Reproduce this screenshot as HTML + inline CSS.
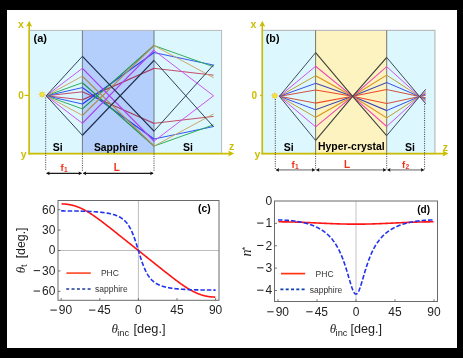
<!DOCTYPE html>
<html><head><meta charset="utf-8"><style>
html,body{margin:0;padding:0;background:#000;width:463px;height:358px;overflow:hidden}
svg{display:block;will-change:transform}
</style></head><body>
<svg width="463" height="358" viewBox="0 0 463 358">
<defs><radialGradient id="sung"><stop offset="0" stop-color="#f6ea3c"/><stop offset="0.7" stop-color="#f0dc40"/><stop offset="1" stop-color="#e8cc48"/></radialGradient></defs>
<rect x="0" y="0" width="463" height="358" fill="#000"/>
<rect x="7" y="10" width="450" height="338" fill="#fff"/>
<rect x="29.2" y="30.4" width="53.2" height="123.19999999999999" fill="#ddf7fe"/>
<rect x="82.4" y="30.4" width="71.6" height="123.19999999999999" fill="#b4cffb"/>
<rect x="154.0" y="30.4" width="67.6" height="123.19999999999999" fill="#ddf7fe"/>
<rect x="29.2" y="30.4" width="192.4" height="123.19999999999999" fill="none" stroke="#b8babd" stroke-width="1"/>
<line x1="82.40" y1="30.40" x2="82.40" y2="153.60" stroke="#6f7a85" stroke-width="1" />
<line x1="154.00" y1="30.40" x2="154.00" y2="153.60" stroke="#6f7a85" stroke-width="1" />
<clipPath id="cp1"><rect x="24.2" y="25.4" width="58.2" height="133.2"/></clipPath>
<g clip-path="url(#cp1)">
<polyline points="46.20,95.80 82.40,91.80 154.00,123.30 213.60,116.40" fill="none" stroke="#c24660" stroke-width="0.95" />
<polyline points="46.20,95.80 82.40,99.80 154.00,68.30 213.60,75.20" fill="none" stroke="#c24660" stroke-width="0.95" />
<polyline points="46.20,95.80 82.40,87.60 154.00,139.00 213.60,126.50" fill="none" stroke="#2a4df3" stroke-width="0.95" />
<polyline points="46.20,95.80 82.40,104.00 154.00,52.60 213.60,65.10" fill="none" stroke="#2a4df3" stroke-width="0.95" />
<polyline points="46.20,95.80 82.40,82.70 154.00,146.10 213.60,124.80" fill="none" stroke="#2aaa50" stroke-width="0.95" />
<polyline points="46.20,95.80 82.40,108.90 154.00,45.50 213.60,66.80" fill="none" stroke="#2aaa50" stroke-width="0.95" />
<polyline points="46.20,95.80 82.40,76.20 154.00,146.10 213.60,113.90" fill="none" stroke="#cba360" stroke-width="0.95" />
<polyline points="46.20,95.80 82.40,115.40 154.00,45.50 213.60,77.70" fill="none" stroke="#cba360" stroke-width="0.95" />
<polyline points="46.20,95.80 82.40,68.30 154.00,141.20 213.60,95.80" fill="none" stroke="#c94df3" stroke-width="0.95" />
<polyline points="46.20,95.80 82.40,123.30 154.00,50.40 213.60,95.80" fill="none" stroke="#c94df3" stroke-width="0.95" />
<polyline points="46.20,95.80 82.40,56.30 154.00,131.20 213.60,64.80" fill="none" stroke="#243850" stroke-width="0.95" />
<polyline points="46.20,95.80 82.40,135.30 154.00,60.40 213.60,126.80" fill="none" stroke="#243850" stroke-width="0.95" />
</g>
<clipPath id="cp2"><rect x="82.4" y="25.4" width="71.6" height="133.2"/></clipPath>
<g clip-path="url(#cp2)">
<polyline points="46.20,95.80 82.40,91.80 154.00,123.30 213.60,116.40" fill="none" stroke="#a53c5f" stroke-width="1.2" />
<polyline points="46.20,95.80 82.40,99.80 154.00,68.30 213.60,75.20" fill="none" stroke="#a53c5f" stroke-width="1.2" />
<polyline points="46.20,95.80 82.40,87.60 154.00,139.00 213.60,126.50" fill="none" stroke="#2342f1" stroke-width="1.2" />
<polyline points="46.20,95.80 82.40,104.00 154.00,52.60 213.60,65.10" fill="none" stroke="#2342f1" stroke-width="1.2" />
<polyline points="46.20,95.80 82.40,82.70 154.00,146.10 213.60,124.80" fill="none" stroke="#23924f" stroke-width="1.2" />
<polyline points="46.20,95.80 82.40,108.90 154.00,45.50 213.60,66.80" fill="none" stroke="#23924f" stroke-width="1.2" />
<polyline points="46.20,95.80 82.40,76.20 154.00,146.10 213.60,113.90" fill="none" stroke="#ac8c5f" stroke-width="1.2" />
<polyline points="46.20,95.80 82.40,115.40 154.00,45.50 213.60,77.70" fill="none" stroke="#ac8c5f" stroke-width="1.2" />
<polyline points="46.20,95.80 82.40,68.30 154.00,141.20 213.60,95.80" fill="none" stroke="#ab42f1" stroke-width="1.2" />
<polyline points="46.20,95.80 82.40,123.30 154.00,50.40 213.60,95.80" fill="none" stroke="#ab42f1" stroke-width="1.2" />
<polyline points="46.20,95.80 82.40,56.30 154.00,131.20 213.60,64.80" fill="none" stroke="#1f304f" stroke-width="1.2" />
<polyline points="46.20,95.80 82.40,135.30 154.00,60.40 213.60,126.80" fill="none" stroke="#1f304f" stroke-width="1.2" />
</g>
<clipPath id="cp3"><rect x="154.0" y="25.4" width="72.6" height="133.2"/></clipPath>
<g clip-path="url(#cp3)">
<polyline points="46.20,95.80 82.40,91.80 154.00,123.30 213.60,116.40" fill="none" stroke="#c24660" stroke-width="0.95" />
<polyline points="46.20,95.80 82.40,99.80 154.00,68.30 213.60,75.20" fill="none" stroke="#c24660" stroke-width="0.95" />
<polyline points="46.20,95.80 82.40,87.60 154.00,139.00 213.60,126.50" fill="none" stroke="#2a4df3" stroke-width="0.95" />
<polyline points="46.20,95.80 82.40,104.00 154.00,52.60 213.60,65.10" fill="none" stroke="#2a4df3" stroke-width="0.95" />
<polyline points="46.20,95.80 82.40,82.70 154.00,146.10 213.60,124.80" fill="none" stroke="#2aaa50" stroke-width="0.95" />
<polyline points="46.20,95.80 82.40,108.90 154.00,45.50 213.60,66.80" fill="none" stroke="#2aaa50" stroke-width="0.95" />
<polyline points="46.20,95.80 82.40,76.20 154.00,146.10 213.60,113.90" fill="none" stroke="#cba360" stroke-width="0.95" />
<polyline points="46.20,95.80 82.40,115.40 154.00,45.50 213.60,77.70" fill="none" stroke="#cba360" stroke-width="0.95" />
<polyline points="46.20,95.80 82.40,68.30 154.00,141.20 213.60,95.80" fill="none" stroke="#c94df3" stroke-width="0.95" />
<polyline points="46.20,95.80 82.40,123.30 154.00,50.40 213.60,95.80" fill="none" stroke="#c94df3" stroke-width="0.95" />
<polyline points="46.20,95.80 82.40,56.30 154.00,131.20 213.60,64.80" fill="none" stroke="#243850" stroke-width="0.95" />
<polyline points="46.20,95.80 82.40,135.30 154.00,60.40 213.60,126.80" fill="none" stroke="#243850" stroke-width="0.95" />
</g>
<polygon points="42.10,90.40 42.76,92.91 45.00,91.60 43.69,93.84 46.20,94.50 43.69,95.16 45.00,97.40 42.76,96.09 42.10,98.60 41.44,96.09 39.20,97.40 40.51,95.16 38.00,94.50 40.51,93.84 39.20,91.60 41.44,92.91" fill="#e6c84a"/>
<circle cx="42.1" cy="94.5" r="2.5" fill="url(#sung)"/>
<line x1="29.20" y1="154.40" x2="29.20" y2="24.80" stroke="#cbbd00" stroke-width="1.6" />
<polygon points="26.20,26.80 29.20,20.80 32.20,26.80 29.20,25.60" fill="#cbbd00"/>
<line x1="28.40" y1="153.60" x2="230.20" y2="153.60" stroke="#cbbd00" stroke-width="1.6" />
<polygon points="228.20,150.60 234.20,153.60 228.20,156.60 229.40,153.60" fill="#cbbd00"/>
<line x1="24.50" y1="95.40" x2="29.20" y2="95.40" stroke="#cbbd00" stroke-width="1.2" />
<text x="21.00" y="27.50" font-family="&quot;Liberation Sans&quot;, sans-serif" font-size="10.5" fill="#cbbd00" font-weight="bold" font-style="normal" text-anchor="middle" >x</text>
<text x="21.00" y="98.80" font-family="&quot;Liberation Sans&quot;, sans-serif" font-size="10" fill="#cbbd00" font-weight="bold" font-style="normal" text-anchor="middle" >0</text>
<text x="23.60" y="157.60" font-family="&quot;Liberation Sans&quot;, sans-serif" font-size="10.5" fill="#cbbd00" font-weight="bold" font-style="normal" text-anchor="middle" >y</text>
<text x="231.50" y="150.00" font-family="&quot;Liberation Sans&quot;, sans-serif" font-size="10.5" fill="#cbbd00" font-weight="bold" font-style="normal" text-anchor="middle" >z</text>
<text x="33.60" y="42.20" font-family="&quot;Liberation Sans&quot;, sans-serif" font-size="11" fill="#000" font-weight="bold" font-style="normal" text-anchor="start" >(a)</text>
<text x="57.60" y="150.80" font-family="&quot;Liberation Sans&quot;, sans-serif" font-size="10.5" fill="#000" font-weight="bold" font-style="normal" text-anchor="middle" >Si</text>
<text x="116.00" y="150.50" font-family="&quot;Liberation Sans&quot;, sans-serif" font-size="10.3" fill="#000" font-weight="bold" font-style="normal" text-anchor="middle" >Sapphire</text>
<text x="188.00" y="150.80" font-family="&quot;Liberation Sans&quot;, sans-serif" font-size="10.5" fill="#000" font-weight="bold" font-style="normal" text-anchor="middle" >Si</text>
<line x1="45.7" y1="97.5" x2="45.7" y2="171" stroke="#222" stroke-width="0.9" stroke-dasharray="1,1.3"/>
<line x1="82.4" y1="153.6" x2="82.4" y2="171" stroke="#222" stroke-width="0.9" stroke-dasharray="1,1.3"/>
<line x1="154.0" y1="153.6" x2="154.0" y2="171" stroke="#222" stroke-width="0.9" stroke-dasharray="1,1.3"/>
<line x1="46.80" y1="173.30" x2="81.40" y2="173.30" stroke="#1a1a1a" stroke-width="1.3" />
<polygon points="46.15,173.30 49.55,171.40 49.15,173.30 49.55,175.20" fill="#111"/>
<polygon points="82.05,173.30 78.65,171.40 79.05,173.30 78.65,175.20" fill="#111"/>
<line x1="83.40" y1="173.30" x2="153.00" y2="173.30" stroke="#1a1a1a" stroke-width="1.3" />
<polygon points="82.75,173.30 86.15,171.40 85.75,173.30 86.15,175.20" fill="#111"/>
<polygon points="153.65,173.30 150.25,171.40 150.65,173.30 150.25,175.20" fill="#111"/>
<text x="64.20" y="170.90" font-family="&quot;Liberation Sans&quot;, sans-serif" font-size="9.6" fill="#f03018" font-weight="bold" font-style="normal" text-anchor="middle" >f<tspan font-size="6.6" dy="0.9" dx="0.3">1</tspan></text>
<text x="116.70" y="171.20" font-family="&quot;Liberation Sans&quot;, sans-serif" font-size="10" fill="#f03018" font-weight="bold" font-style="normal" text-anchor="middle" >L</text>
<rect x="262.3" y="30.4" width="53.30000000000001" height="123.19999999999999" fill="#ddf7fe"/>
<rect x="315.6" y="30.4" width="71.09999999999997" height="123.19999999999999" fill="#fdf3c0"/>
<rect x="386.7" y="30.4" width="48.19999999999999" height="123.19999999999999" fill="#ddf7fe"/>
<rect x="262.3" y="30.4" width="172.59999999999997" height="123.19999999999999" fill="none" stroke="#b8babd" stroke-width="1.2"/>
<line x1="315.60" y1="30.40" x2="315.60" y2="153.60" stroke="#7a7562" stroke-width="1" />
<line x1="386.70" y1="30.40" x2="386.70" y2="153.60" stroke="#7a7562" stroke-width="1" />
<clipPath id="cp4"><rect x="257.3" y="25.4" width="58.30000000000001" height="133.2"/></clipPath>
<g clip-path="url(#cp4)">
<polyline points="279.40,96.30 315.60,90.00 352.60,96.30 386.70,103.55 419.60,96.50 425.70,95.20" fill="none" stroke="#d04a30" stroke-width="0.95" />
<polyline points="279.40,96.30 315.60,103.10 352.60,96.30 386.70,89.55 419.60,96.50 425.70,97.80" fill="none" stroke="#d04a30" stroke-width="0.95" />
<polyline points="279.40,96.30 315.60,83.35 352.60,96.30 386.70,110.55 419.60,96.50 425.70,93.90" fill="none" stroke="#3446e7" stroke-width="0.95" />
<polyline points="279.40,96.30 315.60,109.75 352.60,96.30 386.70,82.55 419.60,96.50 425.70,99.10" fill="none" stroke="#3446e7" stroke-width="0.95" />
<polyline points="279.40,96.30 315.60,75.75 352.60,96.30 386.70,117.95 419.60,96.50 425.70,92.53" fill="none" stroke="#bf9728" stroke-width="0.95" />
<polyline points="279.40,96.30 315.60,117.35 352.60,96.30 386.70,75.15 419.60,96.50 425.70,100.47" fill="none" stroke="#bf9728" stroke-width="0.95" />
<polyline points="279.40,96.30 315.60,66.25 352.60,96.30 386.70,126.45 419.60,96.50 425.70,90.96" fill="none" stroke="#d346ef" stroke-width="0.95" />
<polyline points="279.40,96.30 315.60,126.85 352.60,96.30 386.70,66.65 419.60,96.50 425.70,102.04" fill="none" stroke="#d346ef" stroke-width="0.95" />
<polyline points="279.40,96.30 315.60,52.65 352.60,96.30 386.70,135.65 419.60,96.50 425.70,89.25" fill="none" stroke="#344250" stroke-width="0.95" />
<polyline points="279.40,96.30 315.60,140.45 352.60,96.30 386.70,57.45 419.60,96.50 425.70,103.75" fill="none" stroke="#344250" stroke-width="0.95" />
</g>
<clipPath id="cp5"><rect x="315.6" y="25.4" width="71.09999999999997" height="133.2"/></clipPath>
<g clip-path="url(#cp5)">
<polyline points="279.40,96.30 315.60,90.00 352.60,96.30 386.70,103.55 419.60,96.50 425.70,95.20" fill="none" stroke="#ee4824" stroke-width="1.1" />
<polyline points="279.40,96.30 315.60,103.10 352.60,96.30 386.70,89.55 419.60,96.50 425.70,97.80" fill="none" stroke="#ee4824" stroke-width="1.1" />
<polyline points="279.40,96.30 315.60,83.35 352.60,96.30 386.70,110.55 419.60,96.50 425.70,93.90" fill="none" stroke="#3c45af" stroke-width="1.1" />
<polyline points="279.40,96.30 315.60,109.75 352.60,96.30 386.70,82.55 419.60,96.50 425.70,99.10" fill="none" stroke="#3c45af" stroke-width="1.1" />
<polyline points="279.40,96.30 315.60,75.75 352.60,96.30 386.70,117.95 419.60,96.50 425.70,92.53" fill="none" stroke="#da951e" stroke-width="1.1" />
<polyline points="279.40,96.30 315.60,117.35 352.60,96.30 386.70,75.15 419.60,96.50 425.70,100.47" fill="none" stroke="#da951e" stroke-width="1.1" />
<polyline points="279.40,96.30 315.60,66.25 352.60,96.30 386.70,126.45 419.60,96.50 425.70,90.96" fill="none" stroke="#f245b5" stroke-width="1.1" />
<polyline points="279.40,96.30 315.60,126.85 352.60,96.30 386.70,66.65 419.60,96.50 425.70,102.04" fill="none" stroke="#f245b5" stroke-width="1.1" />
<polyline points="279.40,96.30 315.60,52.65 352.60,96.30 386.70,135.65 419.60,96.50 425.70,89.25" fill="none" stroke="#3c413c" stroke-width="1.1" />
<polyline points="279.40,96.30 315.60,140.45 352.60,96.30 386.70,57.45 419.60,96.50 425.70,103.75" fill="none" stroke="#3c413c" stroke-width="1.1" />
</g>
<clipPath id="cp6"><rect x="386.7" y="25.4" width="53.19999999999999" height="133.2"/></clipPath>
<g clip-path="url(#cp6)">
<polyline points="279.40,96.30 315.60,90.00 352.60,96.30 386.70,103.55 419.60,96.50 425.70,95.20" fill="none" stroke="#d04a30" stroke-width="0.95" />
<polyline points="279.40,96.30 315.60,103.10 352.60,96.30 386.70,89.55 419.60,96.50 425.70,97.80" fill="none" stroke="#d04a30" stroke-width="0.95" />
<polyline points="279.40,96.30 315.60,83.35 352.60,96.30 386.70,110.55 419.60,96.50 425.70,93.90" fill="none" stroke="#3446e7" stroke-width="0.95" />
<polyline points="279.40,96.30 315.60,109.75 352.60,96.30 386.70,82.55 419.60,96.50 425.70,99.10" fill="none" stroke="#3446e7" stroke-width="0.95" />
<polyline points="279.40,96.30 315.60,75.75 352.60,96.30 386.70,117.95 419.60,96.50 425.70,92.53" fill="none" stroke="#bf9728" stroke-width="0.95" />
<polyline points="279.40,96.30 315.60,117.35 352.60,96.30 386.70,75.15 419.60,96.50 425.70,100.47" fill="none" stroke="#bf9728" stroke-width="0.95" />
<polyline points="279.40,96.30 315.60,66.25 352.60,96.30 386.70,126.45 419.60,96.50 425.70,90.96" fill="none" stroke="#d346ef" stroke-width="0.95" />
<polyline points="279.40,96.30 315.60,126.85 352.60,96.30 386.70,66.65 419.60,96.50 425.70,102.04" fill="none" stroke="#d346ef" stroke-width="0.95" />
<polyline points="279.40,96.30 315.60,52.65 352.60,96.30 386.70,135.65 419.60,96.50 425.70,89.25" fill="none" stroke="#344250" stroke-width="0.95" />
<polyline points="279.40,96.30 315.60,140.45 352.60,96.30 386.70,57.45 419.60,96.50 425.70,103.75" fill="none" stroke="#344250" stroke-width="0.95" />
</g>
<polygon points="274.70,91.70 275.36,94.21 277.60,92.90 276.29,95.14 278.80,95.80 276.29,96.46 277.60,98.70 275.36,97.39 274.70,99.90 274.04,97.39 271.80,98.70 273.11,96.46 270.60,95.80 273.11,95.14 271.80,92.90 274.04,94.21" fill="#e6c84a"/>
<circle cx="274.7" cy="95.8" r="2.5" fill="url(#sung)"/>
<line x1="262.30" y1="154.40" x2="262.30" y2="24.80" stroke="#cbbd00" stroke-width="1.6" />
<polygon points="259.30,26.80 262.30,20.80 265.30,26.80 262.30,25.60" fill="#cbbd00"/>
<line x1="261.50" y1="153.60" x2="444.50" y2="153.60" stroke="#cbbd00" stroke-width="1.6" />
<polygon points="442.50,150.60 448.50,153.60 442.50,156.60 443.70,153.60" fill="#cbbd00"/>
<line x1="260.00" y1="95.50" x2="262.30" y2="95.50" stroke="#cbbd00" stroke-width="1.2" />
<text x="253.50" y="27.50" font-family="&quot;Liberation Sans&quot;, sans-serif" font-size="10.5" fill="#cbbd00" font-weight="bold" font-style="normal" text-anchor="middle" >x</text>
<text x="254.20" y="98.80" font-family="&quot;Liberation Sans&quot;, sans-serif" font-size="10" fill="#cbbd00" font-weight="bold" font-style="normal" text-anchor="middle" >0</text>
<text x="257.30" y="157.60" font-family="&quot;Liberation Sans&quot;, sans-serif" font-size="10.5" fill="#cbbd00" font-weight="bold" font-style="normal" text-anchor="middle" >y</text>
<text x="445.40" y="150.60" font-family="&quot;Liberation Sans&quot;, sans-serif" font-size="10.5" fill="#cbbd00" font-weight="bold" font-style="normal" text-anchor="middle" >z</text>
<text x="265.80" y="41.90" font-family="&quot;Liberation Sans&quot;, sans-serif" font-size="10.7" fill="#000" font-weight="bold" font-style="normal" text-anchor="start" >(b)</text>
<text x="288.80" y="151.00" font-family="&quot;Liberation Sans&quot;, sans-serif" font-size="10.5" fill="#000" font-weight="bold" font-style="normal" text-anchor="middle" >Si</text>
<text x="351.40" y="149.70" font-family="&quot;Liberation Sans&quot;, sans-serif" font-size="10.45" fill="#000" font-weight="bold" font-style="normal" text-anchor="middle" >Hyper-crystal</text>
<text x="410.00" y="151.00" font-family="&quot;Liberation Sans&quot;, sans-serif" font-size="10.5" fill="#000" font-weight="bold" font-style="normal" text-anchor="middle" >Si</text>
<line x1="275.3" y1="99" x2="275.3" y2="170" stroke="#222" stroke-width="0.9" stroke-dasharray="1,1.3"/>
<line x1="315.6" y1="153.6" x2="315.6" y2="170" stroke="#222" stroke-width="0.9" stroke-dasharray="1,1.3"/>
<line x1="386.7" y1="153.6" x2="386.7" y2="170" stroke="#222" stroke-width="0.9" stroke-dasharray="1,1.3"/>
<line x1="424.6" y1="104" x2="424.6" y2="170" stroke="#222" stroke-width="0.9" stroke-dasharray="1,1.3"/>
<line x1="276.30" y1="169.90" x2="314.60" y2="169.90" stroke="#a4a4a4" stroke-width="1.6" />
<polygon points="275.65,169.90 279.05,168.00 278.65,169.90 279.05,171.80" fill="#111"/>
<polygon points="315.25,169.90 311.85,168.00 312.25,169.90 311.85,171.80" fill="#111"/>
<line x1="316.60" y1="169.90" x2="385.70" y2="169.90" stroke="#a4a4a4" stroke-width="1.6" />
<polygon points="315.95,169.90 319.35,168.00 318.95,169.90 319.35,171.80" fill="#111"/>
<polygon points="386.35,169.90 382.95,168.00 383.35,169.90 382.95,171.80" fill="#111"/>
<line x1="387.70" y1="169.90" x2="423.60" y2="169.90" stroke="#a4a4a4" stroke-width="1.6" />
<polygon points="387.05,169.90 390.45,168.00 390.05,169.90 390.45,171.80" fill="#111"/>
<polygon points="424.25,169.90 420.85,168.00 421.25,169.90 420.85,171.80" fill="#111"/>
<text x="295.20" y="167.90" font-family="&quot;Liberation Sans&quot;, sans-serif" font-size="9.6" fill="#f03018" font-weight="bold" font-style="normal" text-anchor="middle" >f<tspan font-size="6.6" dy="0.9" dx="0.3">1</tspan></text>
<text x="347.10" y="167.60" font-family="&quot;Liberation Sans&quot;, sans-serif" font-size="10" fill="#f03018" font-weight="bold" font-style="normal" text-anchor="middle" >L</text>
<text x="405.70" y="167.90" font-family="&quot;Liberation Sans&quot;, sans-serif" font-size="9.6" fill="#f03018" font-weight="bold" font-style="normal" text-anchor="middle" >f<tspan font-size="6.6" dy="0.9" dx="0.3">2</tspan></text>
<line x1="138.4" y1="200.5" x2="138.4" y2="300.3" stroke="#bdbdbd" stroke-width="1"/>
<line x1="58.0" y1="250.5" x2="219.0" y2="250.5" stroke="#bdbdbd" stroke-width="1"/>
<polyline points="61.61,203.90 62.04,203.90 62.47,203.91 62.90,203.93 63.33,203.94 63.75,203.97 64.18,203.99 64.61,204.02 65.04,204.05 65.47,204.09 65.90,204.13 66.33,204.18 66.76,204.23 67.19,204.28 67.62,204.34 68.04,204.40 68.47,204.46 68.90,204.53 69.33,204.61 69.76,204.69 70.19,204.77 70.62,204.86 71.05,204.95 71.48,205.04 71.91,205.14 72.33,205.25 72.76,205.36 73.19,205.47 73.62,205.59 74.05,205.71 74.48,205.84 74.91,205.97 75.34,206.10 75.77,206.24 76.20,206.39 76.62,206.54 77.05,206.69 77.48,206.85 77.91,207.01 78.34,207.17 78.77,207.35 79.20,207.52 79.63,207.70 80.06,207.88 80.49,208.07 80.91,208.26 81.34,208.46 81.77,208.66 82.20,208.87 82.63,209.08 83.06,209.29 83.49,209.50 83.92,209.73 84.35,209.95 84.78,210.18 85.20,210.41 85.63,210.65 86.06,210.89 86.49,211.13 86.92,211.37 87.35,211.62 87.78,211.88 88.21,212.13 88.64,212.39 89.06,212.66 89.49,212.92 89.92,213.19 90.35,213.46 90.78,213.73 91.21,214.01 91.64,214.29 92.07,214.57 92.50,214.86 92.93,215.15 93.36,215.44 93.78,215.73 94.21,216.02 94.64,216.32 95.07,216.62 95.50,216.92 95.93,217.22 96.36,217.53 96.79,217.83 97.22,218.14 97.65,218.45 98.07,218.76 98.50,219.08 98.93,219.39 99.36,219.71 99.79,220.03 100.22,220.34 100.65,220.66 101.08,220.99 101.51,221.31 101.94,221.63 102.36,221.96 102.79,222.29 103.22,222.61 103.65,222.94 104.08,223.27 104.51,223.60 104.94,223.93 105.37,224.26 105.80,224.59 106.23,224.93 106.65,225.26 107.08,225.60 107.51,225.93 107.94,226.27 108.37,226.60 108.80,226.94 109.23,227.27 109.66,227.61 110.09,227.95 110.52,228.29 110.94,228.63 111.37,228.97 111.80,229.30 112.23,229.64 112.66,229.98 113.09,230.32 113.52,230.66 113.95,231.00 114.38,231.34 114.81,231.69 115.23,232.03 115.66,232.37 116.09,232.71 116.52,233.05 116.95,233.39 117.38,233.73 117.81,234.08 118.24,234.42 118.67,234.76 119.09,235.10 119.52,235.44 119.95,235.78 120.38,236.13 120.81,236.47 121.24,236.81 121.67,237.15 122.10,237.50 122.53,237.84 122.96,238.18 123.39,238.52 123.81,238.86 124.24,239.21 124.67,239.55 125.10,239.89 125.53,240.23 125.96,240.58 126.39,240.92 126.82,241.26 127.25,241.60 127.68,241.94 128.10,242.29 128.53,242.63 128.96,242.97 129.39,243.31 129.82,243.66 130.25,244.00 130.68,244.34 131.11,244.68 131.54,245.02 131.97,245.37 132.39,245.71 132.82,246.05 133.25,246.39 133.68,246.74 134.11,247.08 134.54,247.42 134.97,247.76 135.40,248.10 135.83,248.45 136.25,248.79 136.68,249.13 137.11,249.47 137.54,249.82 137.97,250.16 138.40,250.50 138.83,250.84 139.26,251.18 139.69,251.53 140.12,251.87 140.55,252.21 140.97,252.55 141.40,252.90 141.83,253.24 142.26,253.58 142.69,253.92 143.12,254.26 143.55,254.61 143.98,254.95 144.41,255.29 144.84,255.63 145.26,255.98 145.69,256.32 146.12,256.66 146.55,257.00 146.98,257.34 147.41,257.69 147.84,258.03 148.27,258.37 148.70,258.71 149.12,259.06 149.55,259.40 149.98,259.74 150.41,260.08 150.84,260.42 151.27,260.77 151.70,261.11 152.13,261.45 152.56,261.79 152.99,262.14 153.42,262.48 153.84,262.82 154.27,263.16 154.70,263.50 155.13,263.85 155.56,264.19 155.99,264.53 156.42,264.87 156.85,265.22 157.28,265.56 157.71,265.90 158.13,266.24 158.56,266.58 158.99,266.92 159.42,267.27 159.85,267.61 160.28,267.95 160.71,268.29 161.14,268.63 161.57,268.97 162.00,269.31 162.42,269.66 162.85,270.00 163.28,270.34 163.71,270.68 164.14,271.02 164.57,271.36 165.00,271.70 165.43,272.03 165.86,272.37 166.28,272.71 166.71,273.05 167.14,273.39 167.57,273.73 168.00,274.06 168.43,274.40 168.86,274.73 169.29,275.07 169.72,275.40 170.15,275.74 170.57,276.07 171.00,276.41 171.43,276.74 171.86,277.07 172.29,277.40 172.72,277.73 173.15,278.06 173.58,278.39 174.01,278.71 174.44,279.04 174.87,279.37 175.29,279.69 175.72,280.01 176.15,280.34 176.58,280.66 177.01,280.97 177.44,281.29 177.87,281.61 178.30,281.92 178.73,282.24 179.16,282.55 179.58,282.86 180.01,283.17 180.44,283.47 180.87,283.78 181.30,284.08 181.73,284.38 182.16,284.68 182.59,284.98 183.02,285.27 183.44,285.56 183.87,285.85 184.30,286.14 184.73,286.43 185.16,286.71 185.59,286.99 186.02,287.27 186.45,287.54 186.88,287.81 187.31,288.08 187.74,288.34 188.16,288.61 188.59,288.87 189.02,289.12 189.45,289.38 189.88,289.63 190.31,289.87 190.74,290.11 191.17,290.35 191.60,290.59 192.03,290.82 192.45,291.05 192.88,291.27 193.31,291.50 193.74,291.71 194.17,291.92 194.60,292.13 195.03,292.34 195.46,292.54 195.89,292.74 196.31,292.93 196.74,293.12 197.17,293.30 197.60,293.48 198.03,293.65 198.46,293.83 198.89,293.99 199.32,294.15 199.75,294.31 200.18,294.46 200.61,294.61 201.03,294.76 201.46,294.90 201.89,295.03 202.32,295.16 202.75,295.29 203.18,295.41 203.61,295.53 204.04,295.64 204.47,295.75 204.90,295.86 205.32,295.96 205.75,296.05 206.18,296.14 206.61,296.23 207.04,296.31 207.47,296.39 207.90,296.47 208.33,296.54 208.76,296.60 209.19,296.66 209.61,296.72 210.04,296.77 210.47,296.82 210.90,296.87 211.33,296.91 211.76,296.95 212.19,296.98 212.62,297.01 213.05,297.03 213.48,297.06 213.90,297.07 214.33,297.09 214.76,297.10 215.19,297.10" fill="none" stroke="#ff1414" stroke-width="1.6" />
<polyline points="61.18,210.92 61.39,210.92 61.61,210.92 61.82,210.92 62.04,210.92 62.25,210.92 62.47,210.92 62.68,210.92 62.90,210.92 63.11,210.92 63.33,210.92 63.54,210.92 63.75,210.92 63.97,210.92 64.18,210.93 64.40,210.93 64.61,210.93 64.83,210.93 65.04,210.93 65.26,210.93 65.47,210.93 65.68,210.93 65.90,210.93 66.11,210.93 66.33,210.93 66.54,210.94 66.76,210.94 66.97,210.94 67.19,210.94 67.40,210.94 67.62,210.94 67.83,210.94 68.04,210.95 68.26,210.95 68.47,210.95 68.69,210.95 68.90,210.95 69.12,210.95 69.33,210.96 69.55,210.96 69.76,210.96 69.97,210.96 70.19,210.97 70.40,210.97 70.62,210.97 70.83,210.97 71.05,210.97 71.26,210.98 71.48,210.98 71.69,210.98 71.91,210.98 72.12,210.99 72.33,210.99 72.55,210.99 72.76,211.00 72.98,211.00 73.19,211.00 73.41,211.00 73.62,211.01 73.84,211.01 74.05,211.01 74.26,211.02 74.48,211.02 74.69,211.02 74.91,211.03 75.12,211.03 75.34,211.03 75.55,211.04 75.77,211.04 75.98,211.05 76.20,211.05 76.41,211.05 76.62,211.06 76.84,211.06 77.05,211.07 77.27,211.07 77.48,211.07 77.70,211.08 77.91,211.08 78.13,211.09 78.34,211.09 78.55,211.10 78.77,211.10 78.98,211.11 79.20,211.11 79.41,211.12 79.63,211.12 79.84,211.13 80.06,211.13 80.27,211.14 80.49,211.14 80.70,211.15 80.91,211.15 81.13,211.16 81.34,211.16 81.56,211.17 81.77,211.18 81.99,211.18 82.20,211.19 82.42,211.19 82.63,211.20 82.84,211.21 83.06,211.21 83.27,211.22 83.49,211.23 83.70,211.23 83.92,211.24 84.13,211.25 84.35,211.25 84.56,211.26 84.78,211.27 84.99,211.28 85.20,211.28 85.42,211.29 85.63,211.30 85.85,211.31 86.06,211.31 86.28,211.32 86.49,211.33 86.71,211.34 86.92,211.35 87.13,211.36 87.35,211.36 87.56,211.37 87.78,211.38 87.99,211.39 88.21,211.40 88.42,211.41 88.64,211.42 88.85,211.43 89.06,211.44 89.28,211.45 89.49,211.46 89.71,211.47 89.92,211.48 90.14,211.49 90.35,211.50 90.57,211.51 90.78,211.52 91.00,211.53 91.21,211.54 91.42,211.55 91.64,211.57 91.85,211.58 92.07,211.59 92.28,211.60 92.50,211.61 92.71,211.63 92.93,211.64 93.14,211.65 93.36,211.66 93.57,211.68 93.78,211.69 94.00,211.70 94.21,211.72 94.43,211.73 94.64,211.75 94.86,211.76 95.07,211.77 95.29,211.79 95.50,211.80 95.71,211.82 95.93,211.84 96.14,211.85 96.36,211.87 96.57,211.88 96.79,211.90 97.00,211.92 97.22,211.93 97.43,211.95 97.65,211.97 97.86,211.98 98.07,212.00 98.29,212.02 98.50,212.04 98.72,212.06 98.93,212.08 99.15,212.10 99.36,212.12 99.58,212.14 99.79,212.16 100.00,212.18 100.22,212.20 100.43,212.22 100.65,212.24 100.86,212.26 101.08,212.28 101.29,212.31 101.51,212.33 101.72,212.35 101.94,212.38 102.15,212.40 102.36,212.43 102.58,212.45 102.79,212.48 103.01,212.50 103.22,212.53 103.44,212.56 103.65,212.58 103.87,212.61 104.08,212.64 104.29,212.67 104.51,212.70 104.72,212.72 104.94,212.75 105.15,212.78 105.37,212.82 105.58,212.85 105.80,212.88 106.01,212.91 106.23,212.95 106.44,212.98 106.65,213.01 106.87,213.05 107.08,213.08 107.30,213.12 107.51,213.16 107.73,213.19 107.94,213.23 108.16,213.27 108.37,213.31 108.58,213.35 108.80,213.39 109.01,213.43 109.23,213.48 109.44,213.52 109.66,213.56 109.87,213.61 110.09,213.66 110.30,213.70 110.52,213.75 110.73,213.80 110.94,213.85 111.16,213.90 111.37,213.95 111.59,214.00 111.80,214.06 112.02,214.11 112.23,214.17 112.45,214.22 112.66,214.28 112.87,214.34 113.09,214.40 113.30,214.46 113.52,214.52 113.73,214.59 113.95,214.65 114.16,214.72 114.38,214.79 114.59,214.86 114.81,214.93 115.02,215.00 115.23,215.07 115.45,215.15 115.66,215.22 115.88,215.30 116.09,215.38 116.31,215.47 116.52,215.55 116.74,215.64 116.95,215.72 117.16,215.81 117.38,215.90 117.59,216.00 117.81,216.09 118.02,216.19 118.24,216.29 118.45,216.39 118.67,216.50 118.88,216.60 119.09,216.71 119.31,216.83 119.52,216.94 119.74,217.06 119.95,217.18 120.17,217.30 120.38,217.43 120.60,217.55 120.81,217.69 121.03,217.82 121.24,217.96 121.45,218.10 121.67,218.24 121.88,218.39 122.10,218.54 122.31,218.70 122.53,218.86 122.74,219.02 122.96,219.19 123.17,219.36 123.39,219.54 123.60,219.72 123.81,219.90 124.03,220.09 124.24,220.29 124.46,220.49 124.67,220.69 124.89,220.90 125.10,221.12 125.32,221.34 125.53,221.56 125.74,221.80 125.96,222.03 126.17,222.28 126.39,222.53 126.60,222.78 126.82,223.05 127.03,223.32 127.25,223.60 127.46,223.88 127.68,224.17 127.89,224.47 128.10,224.78 128.32,225.09 128.53,225.42 128.75,225.75 128.96,226.09 129.18,226.44 129.39,226.80 129.61,227.16 129.82,227.54 130.03,227.92 130.25,228.32 130.46,228.72 130.68,229.14 130.89,229.56 131.11,230.00 131.32,230.44 131.54,230.90 131.75,231.36 131.97,231.84 132.18,232.33 132.39,232.82 132.61,233.33 132.82,233.85 133.04,234.38 133.25,234.92 133.47,235.47 133.68,236.04 133.90,236.61 134.11,237.19 134.32,237.78 134.54,238.39 134.75,239.00 134.97,239.62 135.18,240.25 135.40,240.89 135.61,241.54 135.83,242.20 136.04,242.86 136.25,243.53 136.47,244.21 136.68,244.89 136.90,245.58 137.11,246.28 137.33,246.97 137.54,247.67 137.76,248.38 137.97,249.08 138.19,249.79 138.40,250.50 138.61,251.21 138.83,251.92 139.04,252.62 139.26,253.33 139.47,254.03 139.69,254.72 139.90,255.42 140.12,256.11 140.33,256.79 140.55,257.47 140.76,258.14 140.97,258.80 141.19,259.46 141.40,260.11 141.62,260.75 141.83,261.38 142.05,262.00 142.26,262.61 142.48,263.22 142.69,263.81 142.90,264.39 143.12,264.96 143.33,265.53 143.55,266.08 143.76,266.62 143.98,267.15 144.19,267.67 144.41,268.18 144.62,268.67 144.84,269.16 145.05,269.64 145.26,270.10 145.48,270.56 145.69,271.00 145.91,271.44 146.12,271.86 146.34,272.28 146.55,272.68 146.77,273.08 146.98,273.46 147.19,273.84 147.41,274.20 147.62,274.56 147.84,274.91 148.05,275.25 148.27,275.58 148.48,275.91 148.70,276.22 148.91,276.53 149.12,276.83 149.34,277.12 149.55,277.40 149.77,277.68 149.98,277.95 150.20,278.22 150.41,278.47 150.63,278.72 150.84,278.97 151.06,279.20 151.27,279.44 151.48,279.66 151.70,279.88 151.91,280.10 152.13,280.31 152.34,280.51 152.56,280.71 152.77,280.91 152.99,281.10 153.20,281.28 153.42,281.46 153.63,281.64 153.84,281.81 154.06,281.98 154.27,282.14 154.49,282.30 154.70,282.46 154.92,282.61 155.13,282.76 155.35,282.90 155.56,283.04 155.77,283.18 155.99,283.31 156.20,283.45 156.42,283.57 156.63,283.70 156.85,283.82 157.06,283.94 157.28,284.06 157.49,284.17 157.71,284.29 157.92,284.40 158.13,284.50 158.35,284.61 158.56,284.71 158.78,284.81 158.99,284.91 159.21,285.00 159.42,285.10 159.64,285.19 159.85,285.28 160.06,285.36 160.28,285.45 160.49,285.53 160.71,285.62 160.92,285.70 161.14,285.78 161.35,285.85 161.57,285.93 161.78,286.00 162.00,286.07 162.21,286.14 162.42,286.21 162.64,286.28 162.85,286.35 163.07,286.41 163.28,286.48 163.50,286.54 163.71,286.60 163.93,286.66 164.14,286.72 164.35,286.78 164.57,286.83 164.78,286.89 165.00,286.94 165.21,287.00 165.43,287.05 165.64,287.10 165.86,287.15 166.07,287.20 166.28,287.25 166.50,287.30 166.71,287.34 166.93,287.39 167.14,287.44 167.36,287.48 167.57,287.52 167.79,287.57 168.00,287.61 168.22,287.65 168.43,287.69 168.64,287.73 168.86,287.77 169.07,287.81 169.29,287.84 169.50,287.88 169.72,287.92 169.93,287.95 170.15,287.99 170.36,288.02 170.57,288.05 170.79,288.09 171.00,288.12 171.22,288.15 171.43,288.18 171.65,288.22 171.86,288.25 172.08,288.28 172.29,288.30 172.51,288.33 172.72,288.36 172.93,288.39 173.15,288.42 173.36,288.44 173.58,288.47 173.79,288.50 174.01,288.52 174.22,288.55 174.44,288.57 174.65,288.60 174.87,288.62 175.08,288.65 175.29,288.67 175.51,288.69 175.72,288.72 175.94,288.74 176.15,288.76 176.37,288.78 176.58,288.80 176.80,288.82 177.01,288.84 177.22,288.86 177.44,288.88 177.65,288.90 177.87,288.92 178.08,288.94 178.30,288.96 178.51,288.98 178.73,289.00 178.94,289.02 179.16,289.03 179.37,289.05 179.58,289.07 179.80,289.08 180.01,289.10 180.23,289.12 180.44,289.13 180.66,289.15 180.87,289.16 181.09,289.18 181.30,289.20 181.51,289.21 181.73,289.23 181.94,289.24 182.16,289.25 182.37,289.27 182.59,289.28 182.80,289.30 183.02,289.31 183.23,289.32 183.44,289.34 183.66,289.35 183.87,289.36 184.09,289.37 184.30,289.39 184.52,289.40 184.73,289.41 184.95,289.42 185.16,289.43 185.38,289.45 185.59,289.46 185.80,289.47 186.02,289.48 186.23,289.49 186.45,289.50 186.66,289.51 186.88,289.52 187.09,289.53 187.31,289.54 187.52,289.55 187.74,289.56 187.95,289.57 188.16,289.58 188.38,289.59 188.59,289.60 188.81,289.61 189.02,289.62 189.24,289.63 189.45,289.64 189.67,289.64 189.88,289.65 190.09,289.66 190.31,289.67 190.52,289.68 190.74,289.69 190.95,289.69 191.17,289.70 191.38,289.71 191.60,289.72 191.81,289.72 192.03,289.73 192.24,289.74 192.45,289.75 192.67,289.75 192.88,289.76 193.10,289.77 193.31,289.77 193.53,289.78 193.74,289.79 193.96,289.79 194.17,289.80 194.38,289.81 194.60,289.81 194.81,289.82 195.03,289.82 195.24,289.83 195.46,289.84 195.67,289.84 195.89,289.85 196.10,289.85 196.31,289.86 196.53,289.86 196.74,289.87 196.96,289.87 197.17,289.88 197.39,289.88 197.60,289.89 197.82,289.89 198.03,289.90 198.25,289.90 198.46,289.91 198.67,289.91 198.89,289.92 199.10,289.92 199.32,289.93 199.53,289.93 199.75,289.93 199.96,289.94 200.18,289.94 200.39,289.95 200.61,289.95 200.82,289.95 201.03,289.96 201.25,289.96 201.46,289.97 201.68,289.97 201.89,289.97 202.11,289.98 202.32,289.98 202.54,289.98 202.75,289.99 202.96,289.99 203.18,289.99 203.39,290.00 203.61,290.00 203.82,290.00 204.04,290.00 204.25,290.01 204.47,290.01 204.68,290.01 204.90,290.02 205.11,290.02 205.32,290.02 205.54,290.02 205.75,290.03 205.97,290.03 206.18,290.03 206.40,290.03 206.61,290.03 206.83,290.04 207.04,290.04 207.25,290.04 207.47,290.04 207.68,290.05 207.90,290.05 208.11,290.05 208.33,290.05 208.54,290.05 208.76,290.05 208.97,290.06 209.19,290.06 209.40,290.06 209.61,290.06 209.83,290.06 210.04,290.06 210.26,290.06 210.47,290.07 210.69,290.07 210.90,290.07 211.12,290.07 211.33,290.07 211.54,290.07 211.76,290.07 211.97,290.07 212.19,290.07 212.40,290.07 212.62,290.07 212.83,290.08 213.05,290.08 213.26,290.08 213.48,290.08 213.69,290.08 213.90,290.08 214.12,290.08 214.33,290.08 214.55,290.08 214.76,290.08 214.98,290.08 215.19,290.08 215.41,290.08 215.62,290.08" fill="none" stroke="#2233f0" stroke-width="1.6" stroke-dasharray="4.5,2"/>
<rect x="58.0" y="200.5" width="161.0" height="99.80000000000001" fill="none" stroke="#6a6a6a" stroke-width="1"/>
<line x1="58.00" y1="209.64" x2="60.50" y2="209.64" stroke="#555" stroke-width="0.8" />
<text x="42.06" y="213.54" font-family="&quot;Liberation Sans&quot;, sans-serif" font-size="12" fill="#1e1e1e" font-weight="normal" font-style="normal" text-anchor="start" >60</text>
<line x1="58.00" y1="230.07" x2="60.50" y2="230.07" stroke="#555" stroke-width="0.8" />
<text x="42.06" y="233.97" font-family="&quot;Liberation Sans&quot;, sans-serif" font-size="12" fill="#1e1e1e" font-weight="normal" font-style="normal" text-anchor="start" >30</text>
<line x1="58.00" y1="250.50" x2="60.50" y2="250.50" stroke="#555" stroke-width="0.8" />
<text x="48.73" y="254.40" font-family="&quot;Liberation Sans&quot;, sans-serif" font-size="12" fill="#1e1e1e" font-weight="normal" font-style="normal" text-anchor="start" >0</text>
<line x1="58.00" y1="270.93" x2="60.50" y2="270.93" stroke="#555" stroke-width="0.8" />
<line x1="33.66" y1="270.63" x2="40.06" y2="270.63" stroke="#1e1e1e" stroke-width="1.0" />
<text x="42.06" y="274.83" font-family="&quot;Liberation Sans&quot;, sans-serif" font-size="12" fill="#1e1e1e" font-weight="normal" font-style="normal" text-anchor="start" >30</text>
<line x1="58.00" y1="291.36" x2="60.50" y2="291.36" stroke="#555" stroke-width="0.8" />
<line x1="33.66" y1="291.06" x2="40.06" y2="291.06" stroke="#1e1e1e" stroke-width="1.0" />
<text x="42.06" y="295.26" font-family="&quot;Liberation Sans&quot;, sans-serif" font-size="12" fill="#1e1e1e" font-weight="normal" font-style="normal" text-anchor="start" >60</text>
<line x1="61.18" y1="300.30" x2="61.18" y2="298.10" stroke="#555" stroke-width="0.8" />
<line x1="50.41" y1="310.10" x2="56.81" y2="310.10" stroke="#1e1e1e" stroke-width="1.0" />
<text x="58.81" y="314.30" font-family="&quot;Liberation Sans&quot;, sans-serif" font-size="12" fill="#1e1e1e" font-weight="normal" font-style="normal" text-anchor="start" >90</text>
<line x1="99.79" y1="300.30" x2="99.79" y2="298.10" stroke="#555" stroke-width="0.8" />
<line x1="89.02" y1="310.10" x2="95.42" y2="310.10" stroke="#1e1e1e" stroke-width="1.0" />
<text x="97.42" y="314.30" font-family="&quot;Liberation Sans&quot;, sans-serif" font-size="12" fill="#1e1e1e" font-weight="normal" font-style="normal" text-anchor="start" >45</text>
<line x1="138.40" y1="300.30" x2="138.40" y2="298.10" stroke="#555" stroke-width="0.8" />
<text x="135.06" y="314.30" font-family="&quot;Liberation Sans&quot;, sans-serif" font-size="12" fill="#1e1e1e" font-weight="normal" font-style="normal" text-anchor="start" >0</text>
<line x1="177.01" y1="300.30" x2="177.01" y2="298.10" stroke="#555" stroke-width="0.8" />
<text x="170.34" y="314.30" font-family="&quot;Liberation Sans&quot;, sans-serif" font-size="12" fill="#1e1e1e" font-weight="normal" font-style="normal" text-anchor="start" >45</text>
<line x1="215.62" y1="300.30" x2="215.62" y2="298.10" stroke="#555" stroke-width="0.8" />
<text x="208.95" y="314.30" font-family="&quot;Liberation Sans&quot;, sans-serif" font-size="12" fill="#1e1e1e" font-weight="normal" font-style="normal" text-anchor="start" >90</text>
<text x="204.40" y="212.10" font-family="&quot;Liberation Sans&quot;, sans-serif" font-size="10.3" fill="#000" font-weight="bold" font-style="normal" text-anchor="middle" >(c)</text>
<line x1="66.40" y1="273.10" x2="90.80" y2="273.10" stroke="#ff5a3c" stroke-width="1.8" />
<text x="100.90" y="276.40" font-family="&quot;Liberation Sans&quot;, sans-serif" font-size="8.5" fill="#333" font-weight="normal" font-style="normal" text-anchor="start" >PHC</text>
<line x1="66.20" y1="289.00" x2="90.60" y2="289.00" stroke="#1c3c90" stroke-width="1.6" stroke-dasharray="3,2.35"/>
<text x="95.00" y="291.50" font-family="&quot;Liberation Sans&quot;, sans-serif" font-size="8.5" fill="#333" font-weight="normal" font-style="normal" text-anchor="start" >sapphire</text>
<text x="111.50" y="333.30" font-family="&quot;Liberation Serif&quot;, serif" font-size="13" fill="#1e1e1e" font-weight="normal" font-style="italic" text-anchor="start" >θ</text>
<text x="117.20" y="336.00" font-family="&quot;Liberation Sans&quot;, sans-serif" font-size="9.3" fill="#1e1e1e" font-weight="normal" font-style="normal" text-anchor="start" >inc</text>
<text x="133.50" y="333.30" font-family="&quot;Liberation Sans&quot;, sans-serif" font-size="12.8" fill="#1e1e1e" font-weight="normal" font-style="normal" text-anchor="start" >[deg.]</text>
<g transform="translate(24.9,273.3) rotate(-90)">
<text x="0.00" y="0.00" font-family="&quot;Liberation Sans&quot;, sans-serif" font-size="12.8" fill="#1e1e1e" font-weight="normal" font-style="normal" text-anchor="start" ><tspan font-family="&quot;Liberation Serif&quot;, serif" font-style="italic" font-size="13">θ</tspan><tspan font-size="9" dy="2.2">t</tspan></text>
</g>
<g transform="translate(24.6,258.3) rotate(-90)">
<text x="0.00" y="0.00" font-family="&quot;Liberation Sans&quot;, sans-serif" font-size="12.3" fill="#1e1e1e" font-weight="normal" font-style="normal" text-anchor="start" >[deg.]</text>
</g>
<line x1="356.0" y1="201.0" x2="356.0" y2="301.5" stroke="#c4c4c4" stroke-width="1"/>
<polyline points="278.43,221.81 278.86,221.81 279.30,221.81 279.73,221.81 280.16,221.81 280.60,221.82 281.03,221.82 281.46,221.82 281.90,221.82 282.33,221.83 282.76,221.83 283.20,221.83 283.63,221.84 284.06,221.84 284.50,221.85 284.93,221.85 285.36,221.86 285.80,221.87 286.23,221.87 286.66,221.88 287.10,221.89 287.53,221.89 287.96,221.90 288.40,221.91 288.83,221.92 289.26,221.93 289.70,221.94 290.13,221.95 290.56,221.96 291.00,221.97 291.43,221.98 291.86,221.99 292.30,222.00 292.73,222.01 293.16,222.02 293.60,222.03 294.03,222.05 294.46,222.06 294.90,222.07 295.33,222.08 295.76,222.10 296.20,222.11 296.63,222.12 297.06,222.14 297.50,222.15 297.93,222.17 298.36,222.18 298.80,222.20 299.23,222.21 299.66,222.23 300.10,222.24 300.53,222.26 300.96,222.28 301.40,222.29 301.83,222.31 302.26,222.33 302.70,222.34 303.13,222.36 303.56,222.38 304.00,222.40 304.43,222.41 304.86,222.43 305.30,222.45 305.73,222.47 306.16,222.49 306.60,222.51 307.03,222.52 307.46,222.54 307.90,222.56 308.33,222.58 308.76,222.60 309.20,222.62 309.63,222.64 310.06,222.66 310.50,222.68 310.93,222.70 311.36,222.72 311.80,222.74 312.23,222.76 312.67,222.78 313.10,222.80 313.53,222.82 313.97,222.84 314.40,222.86 314.83,222.88 315.27,222.90 315.70,222.92 316.13,222.94 316.57,222.96 317.00,222.98 317.43,223.00 317.87,223.02 318.30,223.04 318.73,223.07 319.17,223.09 319.60,223.11 320.03,223.13 320.47,223.15 320.90,223.17 321.33,223.19 321.77,223.21 322.20,223.23 322.63,223.25 323.07,223.27 323.50,223.29 323.93,223.31 324.37,223.33 324.80,223.35 325.23,223.37 325.67,223.39 326.10,223.40 326.53,223.42 326.97,223.44 327.40,223.46 327.83,223.48 328.27,223.50 328.70,223.52 329.13,223.53 329.57,223.55 330.00,223.57 330.43,223.59 330.87,223.61 331.30,223.62 331.73,223.64 332.17,223.66 332.60,223.67 333.03,223.69 333.47,223.71 333.90,223.72 334.33,223.74 334.77,223.75 335.20,223.77 335.63,223.78 336.07,223.80 336.50,223.81 336.93,223.83 337.37,223.84 337.80,223.86 338.23,223.87 338.67,223.88 339.10,223.90 339.53,223.91 339.97,223.92 340.40,223.93 340.83,223.95 341.27,223.96 341.70,223.97 342.13,223.98 342.57,223.99 343.00,224.00 343.43,224.01 343.87,224.02 344.30,224.03 344.73,224.04 345.17,224.05 345.60,224.06 346.03,224.06 346.47,224.07 346.90,224.08 347.33,224.09 347.77,224.09 348.20,224.10 348.63,224.11 349.07,224.11 349.50,224.12 349.93,224.12 350.37,224.13 350.80,224.13 351.23,224.14 351.67,224.14 352.10,224.14 352.53,224.15 352.97,224.15 353.40,224.15 353.83,224.15 354.27,224.16 354.70,224.16 355.13,224.16 355.57,224.16 356.00,224.16 356.43,224.16 356.87,224.16 357.30,224.16 357.73,224.16 358.17,224.15 358.60,224.15 359.03,224.15 359.47,224.15 359.90,224.14 360.33,224.14 360.77,224.14 361.20,224.13 361.63,224.13 362.07,224.12 362.50,224.12 362.93,224.11 363.37,224.11 363.80,224.10 364.23,224.09 364.67,224.09 365.10,224.08 365.53,224.07 365.97,224.06 366.40,224.06 366.83,224.05 367.27,224.04 367.70,224.03 368.13,224.02 368.57,224.01 369.00,224.00 369.43,223.99 369.87,223.98 370.30,223.97 370.73,223.96 371.17,223.95 371.60,223.93 372.03,223.92 372.47,223.91 372.90,223.90 373.33,223.88 373.77,223.87 374.20,223.86 374.63,223.84 375.07,223.83 375.50,223.81 375.93,223.80 376.37,223.78 376.80,223.77 377.23,223.75 377.67,223.74 378.10,223.72 378.53,223.71 378.97,223.69 379.40,223.67 379.83,223.66 380.27,223.64 380.70,223.62 381.13,223.61 381.57,223.59 382.00,223.57 382.43,223.55 382.87,223.53 383.30,223.52 383.73,223.50 384.17,223.48 384.60,223.46 385.03,223.44 385.47,223.42 385.90,223.40 386.33,223.39 386.77,223.37 387.20,223.35 387.63,223.33 388.07,223.31 388.50,223.29 388.93,223.27 389.37,223.25 389.80,223.23 390.23,223.21 390.67,223.19 391.10,223.17 391.53,223.15 391.97,223.13 392.40,223.11 392.83,223.09 393.27,223.07 393.70,223.04 394.13,223.02 394.57,223.00 395.00,222.98 395.43,222.96 395.87,222.94 396.30,222.92 396.73,222.90 397.17,222.88 397.60,222.86 398.03,222.84 398.47,222.82 398.90,222.80 399.33,222.78 399.77,222.76 400.20,222.74 400.64,222.72 401.07,222.70 401.50,222.68 401.94,222.66 402.37,222.64 402.80,222.62 403.24,222.60 403.67,222.58 404.10,222.56 404.54,222.54 404.97,222.52 405.40,222.51 405.84,222.49 406.27,222.47 406.70,222.45 407.14,222.43 407.57,222.41 408.00,222.40 408.44,222.38 408.87,222.36 409.30,222.34 409.74,222.33 410.17,222.31 410.60,222.29 411.04,222.28 411.47,222.26 411.90,222.24 412.34,222.23 412.77,222.21 413.20,222.20 413.64,222.18 414.07,222.17 414.50,222.15 414.94,222.14 415.37,222.12 415.80,222.11 416.24,222.10 416.67,222.08 417.10,222.07 417.54,222.06 417.97,222.05 418.40,222.03 418.84,222.02 419.27,222.01 419.70,222.00 420.14,221.99 420.57,221.98 421.00,221.97 421.44,221.96 421.87,221.95 422.30,221.94 422.74,221.93 423.17,221.92 423.60,221.91 424.04,221.90 424.47,221.89 424.90,221.89 425.34,221.88 425.77,221.87 426.20,221.87 426.64,221.86 427.07,221.85 427.50,221.85 427.94,221.84 428.37,221.84 428.80,221.83 429.24,221.83 429.67,221.83 430.10,221.82 430.54,221.82 430.97,221.82 431.40,221.82 431.84,221.81 432.27,221.81 432.70,221.81 433.14,221.81 433.57,221.81" fill="none" stroke="#ff1414" stroke-width="1.6" />
<polyline points="278.00,220.00 278.21,220.00 278.43,220.00 278.65,220.00 278.86,220.00 279.08,220.00 279.30,220.01 279.51,220.01 279.73,220.01 279.95,220.01 280.16,220.02 280.38,220.02 280.60,220.02 280.81,220.03 281.03,220.03 281.25,220.04 281.46,220.04 281.68,220.05 281.90,220.06 282.11,220.06 282.33,220.07 282.55,220.08 282.76,220.08 282.98,220.09 283.20,220.10 283.41,220.11 283.63,220.12 283.85,220.13 284.06,220.14 284.28,220.15 284.50,220.16 284.71,220.17 284.93,220.18 285.15,220.19 285.36,220.20 285.58,220.21 285.80,220.23 286.01,220.24 286.23,220.25 286.45,220.27 286.66,220.28 286.88,220.29 287.10,220.31 287.31,220.32 287.53,220.34 287.75,220.36 287.96,220.37 288.18,220.39 288.40,220.41 288.61,220.42 288.83,220.44 289.05,220.46 289.26,220.48 289.48,220.50 289.70,220.52 289.91,220.54 290.13,220.56 290.35,220.58 290.56,220.60 290.78,220.62 291.00,220.64 291.21,220.66 291.43,220.69 291.65,220.71 291.86,220.73 292.08,220.76 292.30,220.78 292.51,220.80 292.73,220.83 292.95,220.85 293.16,220.88 293.38,220.91 293.60,220.93 293.81,220.96 294.03,220.99 294.25,221.02 294.46,221.05 294.68,221.07 294.90,221.10 295.11,221.13 295.33,221.16 295.55,221.19 295.76,221.23 295.98,221.26 296.20,221.29 296.41,221.32 296.63,221.36 296.85,221.39 297.06,221.42 297.28,221.46 297.50,221.49 297.71,221.53 297.93,221.56 298.15,221.60 298.36,221.64 298.58,221.67 298.80,221.71 299.01,221.75 299.23,221.79 299.45,221.83 299.66,221.87 299.88,221.91 300.10,221.95 300.31,221.99 300.53,222.04 300.75,222.08 300.96,222.12 301.18,222.17 301.40,222.21 301.61,222.25 301.83,222.30 302.05,222.35 302.26,222.39 302.48,222.44 302.70,222.49 302.91,222.54 303.13,222.59 303.35,222.64 303.56,222.69 303.78,222.74 304.00,222.79 304.21,222.84 304.43,222.89 304.65,222.95 304.86,223.00 305.08,223.06 305.30,223.11 305.51,223.17 305.73,223.22 305.95,223.28 306.16,223.34 306.38,223.40 306.60,223.46 306.81,223.52 307.03,223.58 307.25,223.64 307.46,223.70 307.68,223.77 307.90,223.83 308.11,223.90 308.33,223.96 308.55,224.03 308.76,224.09 308.98,224.16 309.20,224.23 309.41,224.30 309.63,224.37 309.85,224.44 310.06,224.51 310.28,224.59 310.50,224.66 310.71,224.73 310.93,224.81 311.15,224.89 311.36,224.96 311.58,225.04 311.80,225.12 312.01,225.20 312.23,225.28 312.45,225.36 312.67,225.45 312.88,225.53 313.10,225.62 313.32,225.70 313.53,225.79 313.75,225.88 313.97,225.96 314.18,226.05 314.40,226.15 314.62,226.24 314.83,226.33 315.05,226.43 315.27,226.52 315.48,226.62 315.70,226.72 315.92,226.81 316.13,226.91 316.35,227.02 316.57,227.12 316.78,227.22 317.00,227.33 317.22,227.43 317.43,227.54 317.65,227.65 317.87,227.76 318.08,227.87 318.30,227.98 318.52,228.10 318.73,228.21 318.95,228.33 319.17,228.45 319.38,228.57 319.60,228.69 319.82,228.82 320.03,228.94 320.25,229.07 320.47,229.19 320.68,229.32 320.90,229.45 321.12,229.59 321.33,229.72 321.55,229.86 321.77,229.99 321.98,230.13 322.20,230.28 322.42,230.42 322.63,230.56 322.85,230.71 323.07,230.86 323.28,231.01 323.50,231.16 323.72,231.32 323.93,231.47 324.15,231.63 324.37,231.79 324.58,231.95 324.80,232.12 325.02,232.29 325.23,232.46 325.45,232.63 325.67,232.80 325.88,232.98 326.10,233.16 326.32,233.34 326.53,233.52 326.75,233.71 326.97,233.90 327.18,234.09 327.40,234.28 327.62,234.48 327.83,234.68 328.05,234.88 328.27,235.08 328.48,235.29 328.70,235.50 328.92,235.71 329.13,235.93 329.35,236.15 329.57,236.37 329.78,236.60 330.00,236.83 330.22,237.06 330.43,237.29 330.65,237.53 330.87,237.78 331.08,238.02 331.30,238.27 331.52,238.53 331.73,238.78 331.95,239.04 332.17,239.31 332.38,239.58 332.60,239.85 332.82,240.13 333.03,240.41 333.25,240.69 333.47,240.98 333.68,241.28 333.90,241.57 334.12,241.88 334.33,242.18 334.55,242.50 334.77,242.81 334.98,243.14 335.20,243.46 335.42,243.80 335.63,244.13 335.85,244.47 336.07,244.82 336.28,245.18 336.50,245.54 336.72,245.90 336.93,246.27 337.15,246.65 337.37,247.03 337.58,247.42 337.80,247.81 338.02,248.21 338.23,248.62 338.45,249.03 338.67,249.45 338.88,249.88 339.10,250.31 339.32,250.75 339.53,251.20 339.75,251.66 339.97,252.12 340.18,252.59 340.40,253.06 340.62,253.55 340.83,254.04 341.05,254.54 341.27,255.05 341.48,255.56 341.70,256.08 341.92,256.62 342.13,257.16 342.35,257.70 342.57,258.26 342.78,258.82 343.00,259.40 343.22,259.98 343.43,260.57 343.65,261.16 343.87,261.77 344.08,262.38 344.30,263.01 344.52,263.64 344.73,264.28 344.95,264.92 345.17,265.58 345.38,266.24 345.60,266.91 345.82,267.59 346.03,268.28 346.25,268.97 346.47,269.67 346.68,270.37 346.90,271.09 347.12,271.80 347.33,272.53 347.55,273.25 347.77,273.98 347.98,274.72 348.20,275.46 348.42,276.20 348.63,276.94 348.85,277.68 349.07,278.42 349.28,279.16 349.50,279.90 349.72,280.63 349.93,281.36 350.15,282.09 350.37,282.80 350.58,283.51 350.80,284.21 351.02,284.90 351.23,285.57 351.45,286.23 351.67,286.88 351.88,287.51 352.10,288.12 352.32,288.71 352.53,289.27 352.75,289.81 352.97,290.33 353.18,290.82 353.40,291.28 353.62,291.71 353.83,292.11 354.05,292.47 354.27,292.80 354.48,293.10 354.70,293.36 354.92,293.57 355.13,293.76 355.35,293.90 355.57,294.00 355.78,294.06 356.00,294.08 356.22,294.06 356.43,294.00 356.65,293.90 356.87,293.76 357.08,293.57 357.30,293.36 357.52,293.10 357.73,292.80 357.95,292.47 358.17,292.11 358.38,291.71 358.60,291.28 358.82,290.82 359.03,290.33 359.25,289.81 359.47,289.27 359.68,288.71 359.90,288.12 360.12,287.51 360.33,286.88 360.55,286.23 360.77,285.57 360.98,284.90 361.20,284.21 361.42,283.51 361.63,282.80 361.85,282.09 362.07,281.36 362.28,280.63 362.50,279.90 362.72,279.16 362.93,278.42 363.15,277.68 363.37,276.94 363.58,276.20 363.80,275.46 364.02,274.72 364.23,273.98 364.45,273.25 364.67,272.53 364.88,271.80 365.10,271.09 365.32,270.37 365.53,269.67 365.75,268.97 365.97,268.28 366.18,267.59 366.40,266.91 366.62,266.24 366.83,265.58 367.05,264.92 367.27,264.28 367.48,263.64 367.70,263.01 367.92,262.38 368.13,261.77 368.35,261.16 368.57,260.57 368.78,259.98 369.00,259.40 369.22,258.82 369.43,258.26 369.65,257.70 369.87,257.16 370.08,256.62 370.30,256.08 370.52,255.56 370.73,255.05 370.95,254.54 371.17,254.04 371.38,253.55 371.60,253.06 371.82,252.59 372.03,252.12 372.25,251.66 372.47,251.20 372.68,250.75 372.90,250.31 373.12,249.88 373.33,249.45 373.55,249.03 373.77,248.62 373.98,248.21 374.20,247.81 374.42,247.42 374.63,247.03 374.85,246.65 375.07,246.27 375.28,245.90 375.50,245.54 375.72,245.18 375.93,244.82 376.15,244.47 376.37,244.13 376.58,243.80 376.80,243.46 377.02,243.14 377.23,242.81 377.45,242.50 377.67,242.18 377.88,241.88 378.10,241.57 378.32,241.28 378.53,240.98 378.75,240.69 378.97,240.41 379.18,240.13 379.40,239.85 379.62,239.58 379.83,239.31 380.05,239.04 380.27,238.78 380.48,238.53 380.70,238.27 380.92,238.02 381.13,237.78 381.35,237.53 381.57,237.29 381.78,237.06 382.00,236.83 382.22,236.60 382.43,236.37 382.65,236.15 382.87,235.93 383.08,235.71 383.30,235.50 383.52,235.29 383.73,235.08 383.95,234.88 384.17,234.68 384.38,234.48 384.60,234.28 384.82,234.09 385.03,233.90 385.25,233.71 385.47,233.52 385.68,233.34 385.90,233.16 386.12,232.98 386.33,232.80 386.55,232.63 386.77,232.46 386.98,232.29 387.20,232.12 387.42,231.95 387.63,231.79 387.85,231.63 388.07,231.47 388.28,231.32 388.50,231.16 388.72,231.01 388.93,230.86 389.15,230.71 389.37,230.56 389.58,230.42 389.80,230.28 390.02,230.13 390.23,229.99 390.45,229.86 390.67,229.72 390.88,229.59 391.10,229.45 391.32,229.32 391.53,229.19 391.75,229.07 391.97,228.94 392.18,228.82 392.40,228.69 392.62,228.57 392.83,228.45 393.05,228.33 393.27,228.21 393.48,228.10 393.70,227.98 393.92,227.87 394.13,227.76 394.35,227.65 394.57,227.54 394.78,227.43 395.00,227.33 395.22,227.22 395.43,227.12 395.65,227.02 395.87,226.91 396.08,226.81 396.30,226.72 396.52,226.62 396.73,226.52 396.95,226.43 397.17,226.33 397.38,226.24 397.60,226.15 397.82,226.05 398.03,225.96 398.25,225.88 398.47,225.79 398.68,225.70 398.90,225.62 399.12,225.53 399.33,225.45 399.55,225.36 399.77,225.28 399.99,225.20 400.20,225.12 400.42,225.04 400.64,224.96 400.85,224.89 401.07,224.81 401.29,224.73 401.50,224.66 401.72,224.59 401.94,224.51 402.15,224.44 402.37,224.37 402.59,224.30 402.80,224.23 403.02,224.16 403.24,224.09 403.45,224.03 403.67,223.96 403.89,223.90 404.10,223.83 404.32,223.77 404.54,223.70 404.75,223.64 404.97,223.58 405.19,223.52 405.40,223.46 405.62,223.40 405.84,223.34 406.05,223.28 406.27,223.22 406.49,223.17 406.70,223.11 406.92,223.06 407.14,223.00 407.35,222.95 407.57,222.89 407.79,222.84 408.00,222.79 408.22,222.74 408.44,222.69 408.65,222.64 408.87,222.59 409.09,222.54 409.30,222.49 409.52,222.44 409.74,222.39 409.95,222.35 410.17,222.30 410.39,222.25 410.60,222.21 410.82,222.17 411.04,222.12 411.25,222.08 411.47,222.04 411.69,221.99 411.90,221.95 412.12,221.91 412.34,221.87 412.55,221.83 412.77,221.79 412.99,221.75 413.20,221.71 413.42,221.67 413.64,221.64 413.85,221.60 414.07,221.56 414.29,221.53 414.50,221.49 414.72,221.46 414.94,221.42 415.15,221.39 415.37,221.36 415.59,221.32 415.80,221.29 416.02,221.26 416.24,221.23 416.45,221.19 416.67,221.16 416.89,221.13 417.10,221.10 417.32,221.07 417.54,221.05 417.75,221.02 417.97,220.99 418.19,220.96 418.40,220.93 418.62,220.91 418.84,220.88 419.05,220.85 419.27,220.83 419.49,220.80 419.70,220.78 419.92,220.76 420.14,220.73 420.35,220.71 420.57,220.69 420.79,220.66 421.00,220.64 421.22,220.62 421.44,220.60 421.65,220.58 421.87,220.56 422.09,220.54 422.30,220.52 422.52,220.50 422.74,220.48 422.95,220.46 423.17,220.44 423.39,220.42 423.60,220.41 423.82,220.39 424.04,220.37 424.25,220.36 424.47,220.34 424.69,220.32 424.90,220.31 425.12,220.29 425.34,220.28 425.55,220.27 425.77,220.25 425.99,220.24 426.20,220.23 426.42,220.21 426.64,220.20 426.85,220.19 427.07,220.18 427.29,220.17 427.50,220.16 427.72,220.15 427.94,220.14 428.15,220.13 428.37,220.12 428.59,220.11 428.80,220.10 429.02,220.09 429.24,220.08 429.45,220.08 429.67,220.07 429.89,220.06 430.10,220.06 430.32,220.05 430.54,220.04 430.75,220.04 430.97,220.03 431.19,220.03 431.40,220.02 431.62,220.02 431.84,220.02 432.05,220.01 432.27,220.01 432.49,220.01 432.70,220.01 432.92,220.00 433.14,220.00 433.35,220.00 433.57,220.00 433.79,220.00 434.00,220.00" fill="none" stroke="#2233f0" stroke-width="1.6" stroke-dasharray="4.5,2"/>
<rect x="274.5" y="201.0" width="163.0" height="100.5" fill="none" stroke="#6a6a6a" stroke-width="1"/>
<text x="265.53" y="204.90" font-family="&quot;Liberation Sans&quot;, sans-serif" font-size="12" fill="#1e1e1e" font-weight="normal" font-style="normal" text-anchor="start" >0</text>
<line x1="274.50" y1="223.38" x2="277.00" y2="223.38" stroke="#555" stroke-width="0.8" />
<line x1="257.13" y1="223.08" x2="263.53" y2="223.08" stroke="#1e1e1e" stroke-width="1.0" />
<text x="265.53" y="227.28" font-family="&quot;Liberation Sans&quot;, sans-serif" font-size="12" fill="#1e1e1e" font-weight="normal" font-style="normal" text-anchor="start" >1</text>
<line x1="274.50" y1="245.75" x2="277.00" y2="245.75" stroke="#555" stroke-width="0.8" />
<line x1="257.13" y1="245.45" x2="263.53" y2="245.45" stroke="#1e1e1e" stroke-width="1.0" />
<text x="265.53" y="249.65" font-family="&quot;Liberation Sans&quot;, sans-serif" font-size="12" fill="#1e1e1e" font-weight="normal" font-style="normal" text-anchor="start" >2</text>
<line x1="274.50" y1="268.12" x2="277.00" y2="268.12" stroke="#555" stroke-width="0.8" />
<line x1="257.13" y1="267.82" x2="263.53" y2="267.82" stroke="#1e1e1e" stroke-width="1.0" />
<text x="265.53" y="272.02" font-family="&quot;Liberation Sans&quot;, sans-serif" font-size="12" fill="#1e1e1e" font-weight="normal" font-style="normal" text-anchor="start" >3</text>
<line x1="274.50" y1="290.50" x2="277.00" y2="290.50" stroke="#555" stroke-width="0.8" />
<line x1="257.13" y1="290.20" x2="263.53" y2="290.20" stroke="#1e1e1e" stroke-width="1.0" />
<text x="265.53" y="294.40" font-family="&quot;Liberation Sans&quot;, sans-serif" font-size="12" fill="#1e1e1e" font-weight="normal" font-style="normal" text-anchor="start" >4</text>
<line x1="278.00" y1="301.50" x2="278.00" y2="299.30" stroke="#555" stroke-width="0.8" />
<line x1="267.23" y1="311.80" x2="273.63" y2="311.80" stroke="#1e1e1e" stroke-width="1.0" />
<text x="275.63" y="316.00" font-family="&quot;Liberation Sans&quot;, sans-serif" font-size="12" fill="#1e1e1e" font-weight="normal" font-style="normal" text-anchor="start" >90</text>
<line x1="317.00" y1="301.50" x2="317.00" y2="299.30" stroke="#555" stroke-width="0.8" />
<line x1="306.23" y1="311.80" x2="312.63" y2="311.80" stroke="#1e1e1e" stroke-width="1.0" />
<text x="314.63" y="316.00" font-family="&quot;Liberation Sans&quot;, sans-serif" font-size="12" fill="#1e1e1e" font-weight="normal" font-style="normal" text-anchor="start" >45</text>
<line x1="356.00" y1="301.50" x2="356.00" y2="299.30" stroke="#555" stroke-width="0.8" />
<text x="352.66" y="316.00" font-family="&quot;Liberation Sans&quot;, sans-serif" font-size="12" fill="#1e1e1e" font-weight="normal" font-style="normal" text-anchor="start" >0</text>
<line x1="395.00" y1="301.50" x2="395.00" y2="299.30" stroke="#555" stroke-width="0.8" />
<text x="388.33" y="316.00" font-family="&quot;Liberation Sans&quot;, sans-serif" font-size="12" fill="#1e1e1e" font-weight="normal" font-style="normal" text-anchor="start" >45</text>
<line x1="434.00" y1="301.50" x2="434.00" y2="299.30" stroke="#555" stroke-width="0.8" />
<text x="427.33" y="316.00" font-family="&quot;Liberation Sans&quot;, sans-serif" font-size="12" fill="#1e1e1e" font-weight="normal" font-style="normal" text-anchor="start" >90</text>
<text x="423.60" y="212.80" font-family="&quot;Liberation Sans&quot;, sans-serif" font-size="10" fill="#000" font-weight="bold" font-style="normal" text-anchor="middle" >(d)</text>
<line x1="281.00" y1="273.60" x2="305.20" y2="273.60" stroke="#ff3414" stroke-width="1.7" />
<text x="315.60" y="277.30" font-family="&quot;Liberation Sans&quot;, sans-serif" font-size="8.5" fill="#333" font-weight="normal" font-style="normal" text-anchor="start" >PHC</text>
<line x1="280.40" y1="289.40" x2="304.60" y2="289.40" stroke="#0c40b0" stroke-width="1.6" stroke-dasharray="3,2.3"/>
<text x="309.70" y="292.60" font-family="&quot;Liberation Sans&quot;, sans-serif" font-size="8.5" fill="#333" font-weight="normal" font-style="normal" text-anchor="start" >sapphire</text>
<text x="329.80" y="333.20" font-family="&quot;Liberation Serif&quot;, serif" font-size="13" fill="#1e1e1e" font-weight="normal" font-style="italic" text-anchor="start" >θ</text>
<text x="335.60" y="336.20" font-family="&quot;Liberation Sans&quot;, sans-serif" font-size="9.3" fill="#1e1e1e" font-weight="normal" font-style="normal" text-anchor="start" >inc</text>
<text x="350.60" y="332.60" font-family="&quot;Liberation Sans&quot;, sans-serif" font-size="12.6" fill="#1e1e1e" font-weight="normal" font-style="normal" text-anchor="start" >[deg.]</text>
<g transform="translate(250.9,256.6) rotate(-90)">
<text x="0.00" y="0.00" font-family="&quot;Liberation Sans&quot;, sans-serif" font-size="14" fill="#1e1e1e" font-weight="normal" font-style="normal" text-anchor="start" ><tspan font-family="&quot;Liberation Serif&quot;, serif" font-style="italic">n</tspan><tspan font-size="9" dy="-3.3" dx="-0.6">*</tspan></text>
</g>
</svg>
</body></html>
